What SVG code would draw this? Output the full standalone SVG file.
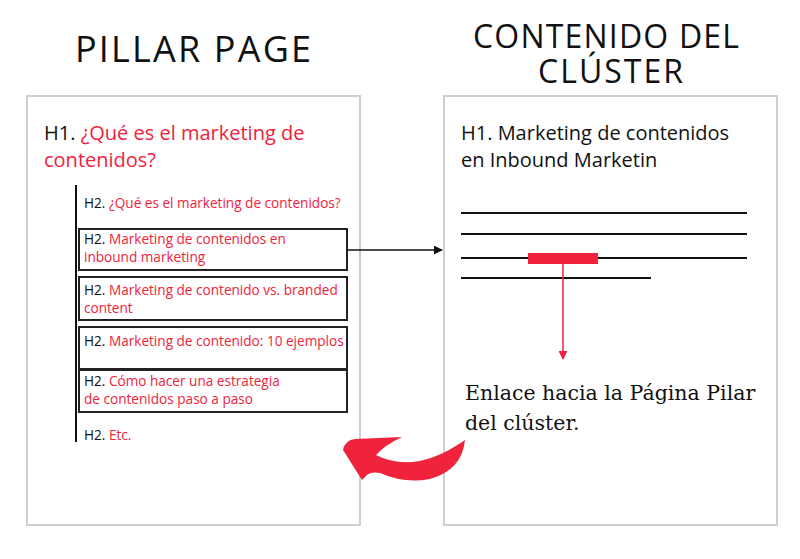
<svg xmlns="http://www.w3.org/2000/svg" width="800" height="559" viewBox="0 0 800 559">
<style>
.sans{font-family:"Open Sans","Liberation Sans",sans-serif}
.title{font-size:32px;fill:#111;font-weight:500}
.big{font-size:36px}
.h1{font-size:20px;fill:#111}
.h2{font-size:13.6px;fill:#111}
.r{fill:#ef233c}
.page{fill:#fff;stroke:#cfcfcf;stroke-width:2}
.box{fill:#fff;stroke:#222;stroke-width:2}
.ln{stroke:#111;stroke-width:2}
.serif{font-family:"DejaVu Serif","Liberation Serif",serif;font-size:20.5px;fill:#111}
</style>
<defs>
<marker id="ab" viewBox="0 0 10 10" refX="9" refY="5" markerWidth="6" markerHeight="6" orient="auto"><path d="M0,0L10,5L0,10z" fill="#111"/></marker>
<marker id="ar" viewBox="0 0 10 10" refX="9" refY="5" markerWidth="6" markerHeight="6" orient="auto"><path d="M0,0L10,5L0,10z" fill="#ef233c"/></marker>
</defs>
<rect width="800" height="559" fill="#fff"/>
<g id="title-left"><text class="sans title big" x="75" y="62" textLength="236" lengthAdjust="spacing">PILLAR PAGE</text></g>
<g id="title-right"><text class="sans title" x="473" y="48" textLength="266" lengthAdjust="spacing">CONTENIDO DEL</text><text class="sans title" x="538" y="83" textLength="145" lengthAdjust="spacing">CLÚSTER</text></g>
<g id="pillar">
<rect class="page" x="27" y="96" width="333" height="429"/>
<text class="sans h1" x="44" y="140">H1. <tspan class="r">¿Qué es el marketing de</tspan></text>
<text class="sans h1 r" x="44" y="167">contenidos?</text>
<line class="ln" x1="76" y1="185" x2="76" y2="442"/>
<text class="sans h2" x="84" y="208">H2. <tspan class="r">¿Qué es el marketing de contenidos?</tspan></text>
<g id="h2-inbound"><rect class="box" x="79" y="229" width="268" height="41"/>
<text class="sans h2" x="84" y="244">H2. <tspan class="r">Marketing de contenidos en</tspan></text>
<text class="sans h2 r" x="84" y="262">inbound marketing</text></g>
<g id="h2-branded"><rect class="box" x="79" y="277" width="268" height="43"/>
<text class="sans h2" x="84" y="295">H2. <tspan class="r">Marketing de contenido vs. branded</tspan></text>
<text class="sans h2 r" x="84" y="313">content</text></g>
<g id="h2-ejemplos"><rect class="box" x="79" y="327" width="268" height="42"/>
<text class="sans h2" x="84" y="346">H2. <tspan class="r">Marketing de contenido: 10 ejemplos</tspan></text></g>
<g id="h2-estrategia"><rect class="box" x="79" y="370" width="268" height="42"/>
<text class="sans h2" x="84" y="386">H2. <tspan class="r">Cómo hacer una estrategia</tspan></text>
<text class="sans h2 r" x="84" y="404">de contenidos paso a paso</text></g>
<text class="sans h2" x="84" y="440">H2. <tspan class="r">Etc.</tspan></text>
</g>
<g id="cluster">
<rect class="page" x="444" y="96" width="333" height="429"/>
<text class="sans h1" x="461" y="140">H1. Marketing de contenidos</text>
<text class="sans h1" x="461" y="167">en Inbound Marketin</text>
<line class="ln" x1="461" y1="213" x2="747" y2="213"/>
<line class="ln" x1="461" y1="234" x2="747" y2="234"/>
<line class="ln" x1="461" y1="258" x2="747" y2="258" stroke-width="2.5"/>
<line class="ln" x1="461" y1="278" x2="651" y2="278" stroke-width="1.5"/>
<rect x="528" y="253" width="70" height="11" fill="#ef233c"/>
<text class="serif" x="465" y="400">Enlace hacia la Página Pilar</text>
<text class="serif" x="465" y="430">del clúster.</text>
</g>
<g id="connectors">
<line x1="347" y1="250" x2="442" y2="250" stroke="#111" stroke-width="1.5" marker-end="url(#ab)"/>
<line x1="563" y1="264" x2="563" y2="359" stroke="#ef233c" stroke-width="1.5" marker-end="url(#ar)"/>
<path d="M343,450 Q345,440 355,439 L402,437 Q385,445 376,455 Q415,475 465,440 Q462,470 430,479 Q405,484 380,473 Q370,471 366,476 L362,480 Z" fill="#ef233c"/>
</g>
</svg>
